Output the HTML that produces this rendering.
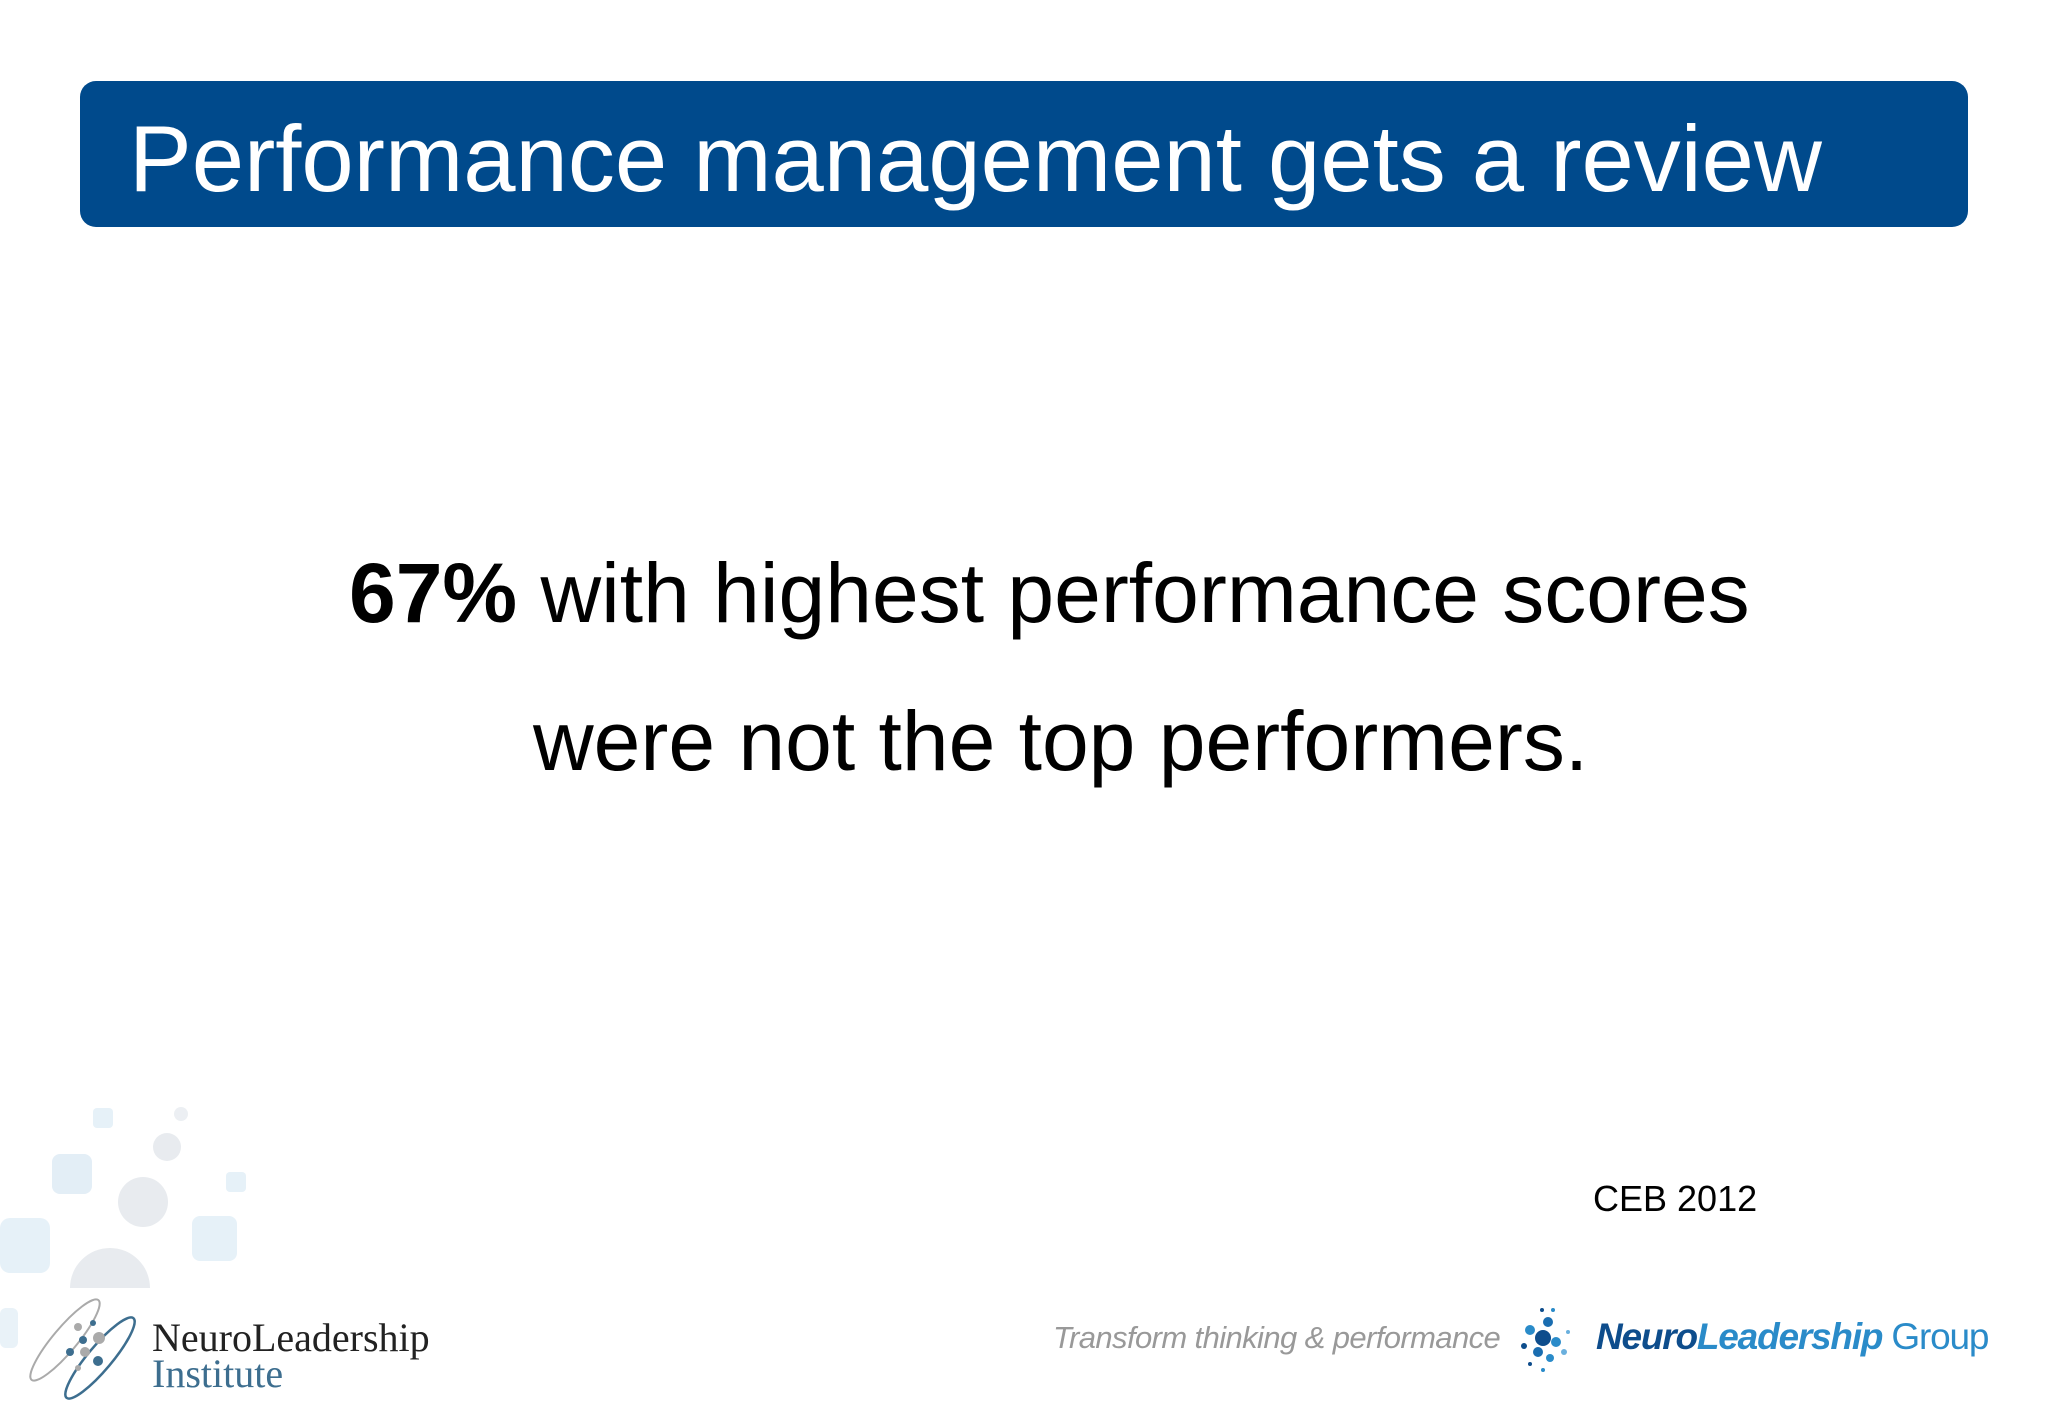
<!DOCTYPE html>
<html><head><meta charset="utf-8"><style>
body{margin:0;width:2048px;height:1418px;background:#fff;position:relative;overflow:hidden;font-family:"Liberation Sans",sans-serif}
.a{position:absolute;white-space:nowrap;line-height:1}
</style></head><body>
<div style="position:absolute;left:80px;top:81px;width:1888px;height:146px;background:#004a8c;border-radius:16px"></div>
<div class="a" style="left:129px;top:112px;font-size:94px;color:#fff">Performance management gets a review</div>
<div class="a" style="left:349px;top:551px;font-size:84px;color:#000"><b>67%</b> with highest performance scores</div>
<div class="a" style="left:533px;top:699px;font-size:84px;color:#000">were not the top performers.</div>
<div class="a" style="left:1593px;top:1181px;font-size:36px;color:#000">CEB 2012</div>
<svg width="300" height="340" style="position:absolute;left:0;top:1078px">
<rect x="93" y="30" width="20" height="20" rx="4" fill="#e6f1f8"/>
<circle cx="181" cy="36" r="7" fill="#eceff3"/>
<circle cx="167" cy="69" r="14" fill="#e8ebef"/>
<rect x="52" y="76" width="40" height="40" rx="8" fill="#e3eef6"/>
<rect x="226" y="94" width="20" height="20" rx="4" fill="#e6f1f8"/>
<circle cx="143" cy="124" r="25" fill="#e8ebef"/>
<rect x="0" y="140" width="50" height="55" rx="10" fill="#e6f1f8"/>
<rect x="192" y="138" width="45" height="45" rx="8" fill="#e6f1f8"/>
<path d="M70 210 a40 40 0 0 1 80 0 z" fill="#e8ebef"/>
<rect x="0" y="230" width="18" height="40" rx="6" fill="#e9f2f8"/>
</svg>
<svg width="120" height="120" style="position:absolute;left:25px;top:1290px">
<ellipse cx="40" cy="50" rx="12" ry="52" transform="rotate(40 40 50)" fill="none" stroke="#aaa" stroke-width="2"/>
<ellipse cx="75" cy="68" rx="12" ry="52" transform="rotate(40 75 68)" fill="none" stroke="#3d6e8f" stroke-width="2.5"/>
<circle cx="53" cy="37" r="4" fill="#aaa"/><circle cx="68" cy="33" r="3" fill="#3d6e8f"/>
<circle cx="58" cy="50" r="4" fill="#3d6e8f"/><circle cx="74" cy="48" r="6" fill="#aaa"/>
<circle cx="45" cy="62" r="4" fill="#3d6e8f"/><circle cx="60" cy="62" r="5" fill="#aaa"/>
<circle cx="73" cy="71" r="5" fill="#3d6e8f"/><circle cx="53" cy="78" r="3" fill="#aaa"/>
</svg>
<div class="a" style="left:152px;top:1318px;font-family:'Liberation Serif',serif;font-size:40px;color:#222">NeuroLeadership</div>
<div class="a" style="left:152px;top:1354px;font-family:'Liberation Serif',serif;font-size:40px;color:#3d6e8f">Institute</div>
<div class="a" style="left:1053px;top:1322px;font-size:31px;font-style:italic;color:#999;letter-spacing:-0.6px">Transform thinking &amp; performance</div>
<svg width="70" height="80" style="position:absolute;left:1508px;top:1302px">
<circle cx="35" cy="36" r="8" fill="#0e4d8c"/><circle cx="22" cy="28" r="5" fill="#2a8bc9"/><circle cx="40" cy="20" r="5" fill="#1a6db0"/>
<circle cx="48" cy="40" r="5" fill="#2a8bc9"/><circle cx="30" cy="50" r="5" fill="#1a6db0"/><circle cx="42" cy="56" r="4" fill="#2a8bc9"/>
<circle cx="16" cy="44" r="3" fill="#0e4d8c"/><circle cx="56" cy="50" r="3" fill="#6ab0de"/><circle cx="34" cy="8" r="2" fill="#0e4d8c"/>
<circle cx="45" cy="8" r="2" fill="#2a8bc9"/><circle cx="22" cy="62" r="2" fill="#0e4d8c"/><circle cx="35" cy="68" r="2" fill="#2a8bc9"/><circle cx="60" cy="30" r="2" fill="#6ab0de"/>
</svg>
<div class="a" style="left:1596px;top:1318px;font-size:37px;font-style:italic;letter-spacing:-1.2px"><b style="color:#0e4d8c">Neuro</b><b style="color:#2a8bc9">Leadership</b><span style="color:#2a8bc9;font-style:normal"> Group</span></div>
</body></html>
